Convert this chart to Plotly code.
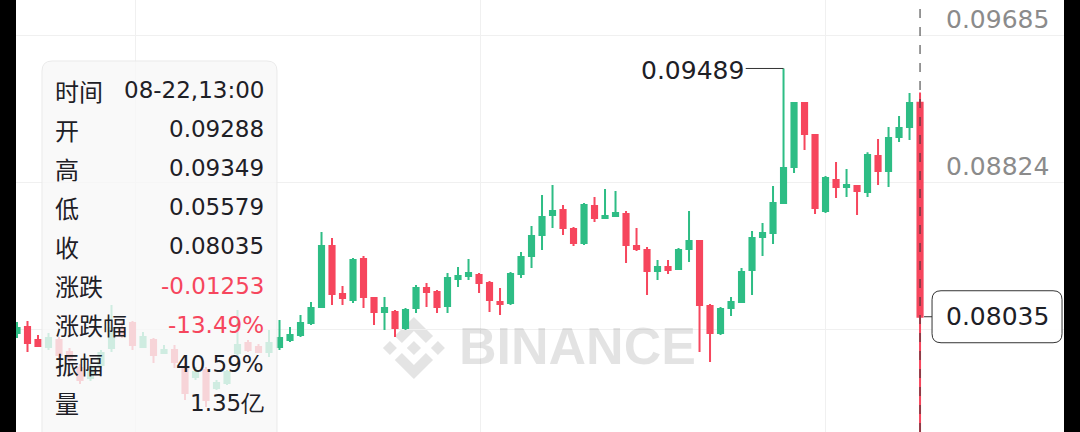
import plotly.graph_objects as go

# hourly candles, oldest first
open_ = [
  0.07940, 0.07975, 0.07899, 0.07858, 0.07899, 0.07828, 0.07735, 0.07676, 0.07752, 0.07852,
  0.07969, 0.07998, 0.07858, 0.07899, 0.07822, 0.07840, 0.07740, 0.07682, 0.07723, 0.07617,
  0.07647, 0.07822, 0.07881, 0.07858, 0.07828, 0.07858, 0.07899, 0.07928, 0.07998, 0.08092,
  0.08449, 0.08168, 0.08133, 0.08373, 0.08145, 0.08063, 0.08063, 0.07969, 0.08086, 0.08203,
  0.08180, 0.08098, 0.08256, 0.08273, 0.08279, 0.08232, 0.08121, 0.08115, 0.08285, 0.08391,
  0.08514, 0.08631, 0.08660, 0.08549, 0.08467, 0.08683, 0.08613, 0.08625, 0.08637, 0.08449,
  0.08426, 0.08303, 0.08326, 0.08314, 0.08432, 0.08479, 0.08098, 0.07940, 0.08086, 0.08121,
  0.08309, 0.08502, 0.08525, 0.08701, 0.08912, 0.09287, 0.09099, 0.08654, 0.08836, 0.08795,
  0.08801, 0.08766, 0.08976, 0.08888, 0.09088, 0.09146, 0.09288]

high = [
  0.08004, 0.08010, 0.07928, 0.07940, 0.07916, 0.07852, 0.07758, 0.07758, 0.07840, 0.08104,
  0.08004, 0.08010, 0.07945, 0.07910, 0.07869, 0.07869, 0.07764, 0.07740, 0.07740, 0.07664,
  0.07723, 0.08074, 0.07899, 0.07875, 0.07957, 0.08016, 0.07975, 0.08045, 0.08121, 0.08531,
  0.08496, 0.08215, 0.08379, 0.08391, 0.08151, 0.08151, 0.08074, 0.08086, 0.08221, 0.08232,
  0.08192, 0.08291, 0.08326, 0.08373, 0.08291, 0.08244, 0.08203, 0.08297, 0.08414, 0.08566,
  0.08748, 0.08806, 0.08689, 0.08560, 0.08701, 0.08736, 0.08783, 0.08771, 0.08654, 0.08555,
  0.08443, 0.08367, 0.08367, 0.08437, 0.08654, 0.08484, 0.08110, 0.08092, 0.08151, 0.08320,
  0.08537, 0.08584, 0.08801, 0.09489, 0.09293, 0.09293, 0.09105, 0.08859, 0.08941, 0.08900,
  0.08806, 0.08999, 0.09076, 0.09146, 0.09211, 0.09345, 0.09349]

low = [
  0.07910, 0.07828, 0.07858, 0.07840, 0.07782, 0.07770, 0.07641, 0.07659, 0.07735, 0.07828,
  0.07910, 0.07840, 0.07852, 0.07764, 0.07817, 0.07735, 0.07547, 0.07664, 0.07506, 0.07606,
  0.07635, 0.07782, 0.07828, 0.07822, 0.07799, 0.07840, 0.07887, 0.07916, 0.07986, 0.08086,
  0.08104, 0.08104, 0.08115, 0.08086, 0.07986, 0.07957, 0.07916, 0.07957, 0.08057, 0.08092,
  0.08057, 0.08057, 0.08209, 0.08250, 0.08174, 0.08063, 0.08045, 0.08104, 0.08262, 0.08320,
  0.08426, 0.08555, 0.08514, 0.08449, 0.08455, 0.08590, 0.08607, 0.08619, 0.08350, 0.08420,
  0.08162, 0.08250, 0.08285, 0.08309, 0.08355, 0.07828, 0.07770, 0.07928, 0.08039, 0.08115,
  0.08162, 0.08391, 0.08461, 0.08695, 0.08877, 0.09011, 0.08637, 0.08642, 0.08730, 0.08736,
  0.08631, 0.08736, 0.08806, 0.08795, 0.09058, 0.09070, 0.05579]

close = [
  0.07969, 0.07881, 0.07863, 0.07910, 0.07811, 0.07793, 0.07664, 0.07735, 0.07822, 0.07969,
  0.07934, 0.07869, 0.07916, 0.07811, 0.07840, 0.07770, 0.07588, 0.07711, 0.07547, 0.07647,
  0.07711, 0.07869, 0.07840, 0.07828, 0.07881, 0.07910, 0.07928, 0.07998, 0.08086, 0.08449,
  0.08168, 0.08145, 0.08367, 0.08151, 0.08063, 0.08086, 0.07969, 0.08074, 0.08203, 0.08180,
  0.08092, 0.08262, 0.08273, 0.08291, 0.08232, 0.08133, 0.08109, 0.08285, 0.08385, 0.08508,
  0.08619, 0.08654, 0.08555, 0.08467, 0.08689, 0.08613, 0.08625, 0.08642, 0.08455, 0.08432,
  0.08303, 0.08326, 0.08309, 0.08426, 0.08479, 0.08104, 0.07940, 0.08080, 0.08121, 0.08297,
  0.08496, 0.08525, 0.08701, 0.08906, 0.09287, 0.09105, 0.08672, 0.08847, 0.08795, 0.08806,
  0.08771, 0.08982, 0.08888, 0.09082, 0.09140, 0.09287, 0.08035]

last_time = '08-22,13:00'
last_volume = 135000000   # 1.35亿

grid_prices = [0.07963, 0.08824, 0.09685]
label_prices = [0.08824, 0.09685]   # the lowest one sits under the price tag

UP = '#2ebd85'
DOWN = '#f6465d'
TXT = '#1e2026'
WM = 'rgba(0,0,0,0.11)'
CJK = 'Noto Sans CJK SC'
NUM = 'DejaVu Sans'

# binance mark outline, in the 126.6 unit box of the logo
LOGO = [
  [(38.7, 53.2), (63.3, 28.6), (87.9, 53.2), (102.2, 38.9), (63.3, 0), (24.4, 38.9)],
  [(38.7, 73.4), (63.3, 98.0), (87.9, 73.4), (102.2, 87.7), (63.3, 126.6), (24.4, 87.7)],
  [(0, 63.3), (14.3, 49.0), (28.6, 63.3), (14.3, 77.6)],
  [(98.0, 63.3), (112.3, 49.0), (126.6, 63.3), (112.3, 77.6)],
  [(63.3, 48.8), (77.8, 63.3), (63.3, 77.8), (48.8, 63.3)],
]


def rounded_box(x0, y0, x1, y1, r):
  # plotly paths take no arcs, so corners are quadratic curves
  return (f'M {x0 + r} {y0} L {x1 - r} {y0} Q {x1} {y0} {x1} {y0 + r} '
          f'L {x1} {y1 - r} Q {x1} {y1} {x1 - r} {y1} L {x0 + r} {y1} '
          f'Q {x0} {y1} {x0} {y1 - r} L {x0} {y0 + r} Q {x0} {y0} {x0 + r} {y0} Z')


def logo_path(poly, size):
  k = size / 126.6
  pts = [((u - 63.3) * k, -(v - 63.3) * k) for u, v in poly]
  return 'M ' + ' L '.join(f'{a:.1f} {b:.1f}' for a, b in pts) + ' Z'


def info_rows():
  o, h, l, c = open_[-1], high[-1], low[-1], close[-1]
  chg = c - o
  return [
    ('时间', last_time, TXT),
    ('开', f'{o:.5f}', TXT),
    ('高', f'{h:.5f}', TXT),
    ('低', f'{l:.5f}', TXT),
    ('收', f'{c:.5f}', TXT),
    ('涨跌', f'{chg:.5f}', DOWN if chg < 0 else UP),
    ('涨跌幅', f'{chg / o * 100:.2f}%', DOWN if chg < 0 else UP),
    ('振幅', f'{(h - l) / o * 100:.2f}%', TXT),
    ('量', f'{last_volume / 1e8:.2f}亿', TXT),
  ]


def main():
  n = len(close)
  xs = list(range(n))
  last = n - 1

  fig = go.Figure(go.Candlestick(
    x=xs, open=open_, high=high, low=low, close=close,
    increasing=dict(line=dict(color=UP, width=2), fillcolor=UP),
    decreasing=dict(line=dict(color=DOWN, width=2), fillcolor=DOWN),
    hoverinfo='skip', showlegend=False))

  # watermark: the mark goes under the candles, the word on top (faint)
  for poly in LOGO:
    fig.add_shape(type='path', xref='x', yref='y', xsizemode='pixel', ysizemode='pixel',
                  xanchor=37.8, yanchor=0.07852, path=logo_path(poly, 62),
                  fillcolor='#e4e4e4', line=dict(width=0), layer='below')
  fig.add_annotation(x=0.5355, y=0.199, xref='paper', yref='paper', text='BINANCE',
                     xanchor='center', yanchor='middle', showarrow=False,
                     font=dict(family='Liberation Sans', size=52, color=WM, weight='bold'))

  # price labels of the right scale
  for v in label_prices:
    fig.add_annotation(x=1, y=v, xref='paper', yref='y', text=f'{v:.5f}', showarrow=False,
                       xanchor='right', yanchor='bottom', xshift=-13, yshift=-1,
                       font=dict(family=NUM, size=25, color='#8b8b8b'))

  # crosshair on the last candle
  fig.add_shape(type='line', x0=last, x1=last, y0=0, y1=1, xref='x', yref='paper',
                line=dict(color='#333333', width=1, dash='dash'), layer='above')

  # highest price marker
  i_max = high.index(max(high))
  fig.add_shape(type='line', x0=i_max - 3.6, x1=i_max, y0=high[i_max], y1=high[i_max],
                line=dict(color='#333333', width=1), layer='above')
  fig.add_annotation(x=i_max - 3.6, y=high[i_max], text=f'{high[i_max]:.5f}', showarrow=False,
                     xanchor='right', yanchor='middle', yshift=-2,
                     font=dict(family=NUM, size=25, color=TXT))

  # last price tag
  fig.add_shape(type='line', xref='x', yref='y', xsizemode='pixel', xanchor=last,
                x0=4, x1=12, y0=close[-1], y1=close[-1], line=dict(color='#333333', width=1),
                layer='above')
  fig.add_shape(type='path', xref='x', yref='y', xsizemode='pixel', ysizemode='pixel',
                xanchor=last, yanchor=close[-1], path=rounded_box(12, -26, 142, 26, 9),
                fillcolor='rgba(255,255,255,0.92)', line=dict(color='#333333', width=1),
                layer='above')
  fig.add_annotation(x=last, y=close[-1], xshift=77, text=f'{close[-1]:.5f}', showarrow=False,
                     xanchor='center', yanchor='middle',
                     font=dict(family=NUM, size=25, color=TXT))

  # info panel
  fig.add_shape(type='path', xref='paper', yref='paper', xsizemode='pixel', ysizemode='pixel',
                xanchor=0, yanchor=1, path=rounded_box(26, -470, 261, -61, 10),
                fillcolor='rgba(247,247,247,0.8)', line=dict(color='rgba(232,232,232,0.9)', width=1),
                layer='above')
  for k, (name, val, col) in enumerate(info_rows()):
    yp = 1 - (90 + 39.1 * k) / 432
    fig.add_annotation(x=0.0353, y=yp, xref='paper', yref='paper', text=name, showarrow=False,
                       xanchor='left', yanchor='middle', font=dict(family=CJK, size=24, color=TXT))
    fig.add_annotation(x=0.2385, y=yp, xref='paper', yref='paper', text=val, showarrow=False,
                       xanchor='right', yanchor='middle', font=dict(family=NUM, size=23, color=col))

  fig.update_layout(
    width=1080, height=432,
    margin=dict(l=16, r=16, t=0, b=0),
    paper_bgcolor='#000000', plot_bgcolor='#ffffff',
    xaxis=dict(range=[-0.095, 99.71], tickvals=[11.24, 44.1, 76.95], showticklabels=False,
               showgrid=True, gridcolor='#f0f0f0', zeroline=False, rangeslider=dict(visible=False),
               fixedrange=True),
    yaxis=dict(range=[0.07360, 0.09890], side='right', tickvals=grid_prices,
               showticklabels=False, ticks='', showgrid=True, gridcolor='#f0f0f0',
               zeroline=False, fixedrange=True),
  )

  # the page has a default 8px body margin; drop it so the chart fills the window
  fig.write_html('out.html', config={'displayModeBar': False},
                 post_script="document.body.style.margin='0';")


if __name__ == '__main__':
  main()
